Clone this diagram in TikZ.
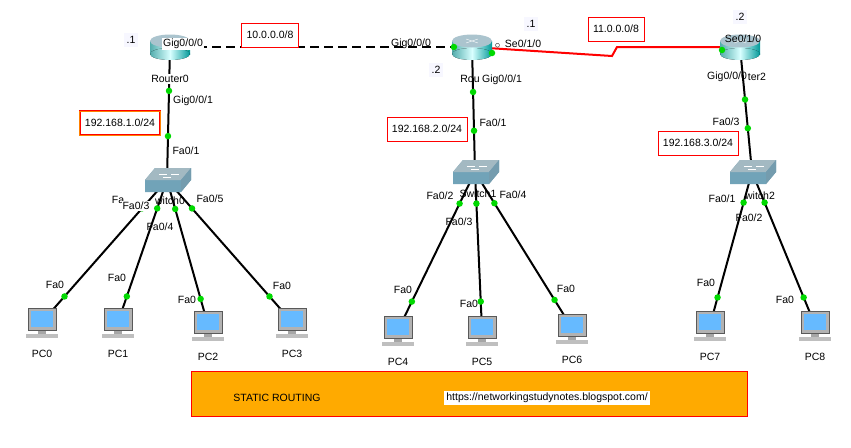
\documentclass[tikz,border=0pt]{standalone}
\usepackage{fontspec}
\setmainfont{Liberation Sans}
\definecolor{banner}{RGB}{255,170,0}
\begin{document}
\begin{tikzpicture}[x=1pt,y=-1pt,font=\fontsize{10.5}{12}\selectfont,
 lbl/.style={inner sep=1pt},
 lk/.style={line width=2pt,black},
 dot/.style={circle,fill=green!85!black,inner sep=2.3pt},
 net/.style={draw=red,fill=white,inner sep=5pt,minimum height=24pt},
 ip/.style={fill=blue!3,inner sep=3pt}]
\useasboundingbox (0,0) rectangle (851,447);
\fill[white] (0,0) rectangle (851,447);
\tikzset{router/.pic={
 \fill[left color=cyan!35!gray,right color=cyan!60!black,middle color=cyan!15] (-20,-6) rectangle (20,7);
 \fill[left color=cyan!35!gray,right color=cyan!60!black,middle color=cyan!15] (0,7) ellipse (20 and 6);
 \fill[cyan!30!gray!60] (0,-6) ellipse (20 and 6.5);
 \draw[white,thin] (-6,-8)--(6,-4) (-6,-4)--(6,-8);},
 switch/.pic={
 \fill[cyan!40!gray] (-22,0)--(-12,-12)--(24,-12)--(24,0)--(14,12)--(-22,12)--cycle;
 \fill[cyan!25!gray!70] (-22,0)--(-12,-12)--(24,-12)--(14,0)--cycle;
 \fill[cyan!50!black!70] (14,0)--(24,-12)--(24,0)--(14,12)--cycle;
 \draw[white] (-8,-6)--(0,-6) (4,-6)--(12,-6) (-4,-3)--(4,-3);},
 pc/.pic={
 \fill[gray!60] (-14,-14) rectangle (14,8);
 \fill[blue!45!cyan!60] (-11,-11) rectangle (11,5);
 \fill[gray!70] (-4,8) rectangle (4,12);
 \fill[gray!50] (-16,12) rectangle (16,16);
 \draw[gray!70!black,thin] (-14,-14) rectangle (14,8);}}
\coordinate (R0) at (170,47); \coordinate (R1) at (472,47); \coordinate (R2) at (740,47);
\coordinate (S0) at (167,180); \coordinate (S1) at (475,172); \coordinate (S2) at (752,172);
\coordinate (P0) at (42,322);\coordinate (P1) at (118,322);\coordinate (P2) at (208,325);
\coordinate (P3) at (292,322);\coordinate (P4) at (398,330);\coordinate (P5) at (482,330);
\coordinate (P6) at (572,328);\coordinate (P7) at (710,325);\coordinate (P8) at (815,325);
% links
\draw[lk,dash pattern=on 9pt off 5pt] (R0) -- (R1);
\draw[red,line width=2pt] (R1) -- (612,56) -- (617,47) -- (R2);
\draw[lk] (R0)--(S0); \draw[lk] (R1)--(S1); \draw[lk] (R2)--(S2);
\foreach \p/\s in {P0/S0,P1/S0,P2/S0,P3/S0,P4/S1,P5/S1,P6/S1,P7/S2,P8/S2} \draw[lk] (\s)--(\p);
% icons
\pic at (R0) {router}; \pic at (R1) {router}; \pic at (R2) {router};
\pic at (S0) {switch}; \pic at (S1) {switch}; \pic at (S2) {switch};
\foreach \p in {P0,P1,P2,P3,P4,P5,P6,P7,P8} \pic at (\p) {pc};
% dots
\path (R0)--(R1) node[dot,pos=0.06]{} node[dot,pos=0.94]{};
\node[dot] at (492,53) {}; \node[dot] at (722,50) {};
\path (R0)--(S0) node[dot,pos=0.33]{} node[dot,pos=0.67]{};
\path (R1)--(S1) node[dot,pos=0.36]{} node[dot,pos=0.67]{};
\path (R2)--(S2) node[dot,pos=0.42]{} node[dot,pos=0.65]{};
\foreach \p/\s in {P0/S0,P1/S0,P2/S0,P3/S0,P4/S1,P5/S1,P6/S1,P7/S2,P8/S2}
 \path (\s)--(\p) node[dot,pos=0.2]{} node[dot,pos=0.82]{};
% node labels
\node[lbl,fill=white] at (170,79) {Router0};
\node[lbl] at (470,79) {Rou};
\node[lbl] at (757,77) {ter2};
\node[lbl] at (170,201) {witch0};
\node[lbl] at (478,194) {Switch1};
\node[lbl] at (760,196) {witch2};
\foreach \p/\t in {P0/PC0,P1/PC1,P2/PC2,P3/PC3,P4/PC4,P5/PC5,P6/PC6,P7/PC7,P8/PC8}
 \node[lbl] at ([yshift=-32]\p) {\t};
% port labels
\node[lbl,fill=white] at (183,44) {Gig0/0/0};
\node[lbl] at (193,101) {Gig0/0/1};
\node[lbl] at (186,151) {Fa0/1};
\node[lbl] at (118,200) {Fa};
\node[lbl,fill=white] at (136,206) {Fa0/3};
\node[lbl] at (160,227) {Fa0/4};
\node[lbl] at (210,199) {Fa0/5};
\node[lbl] at (55,285) {Fa0};\node[lbl] at (117,278) {Fa0};
\node[lbl] at (187,300) {Fa0};\node[lbl] at (282,286) {Fa0};
\node[lbl] at (411,44) {Gig0/0/0};
\node[lbl] at (518,44) {\raisebox{-0.5pt}{$\circ$}\, Se0/1/0};
\node[lbl] at (502,80) {Gig0/0/1};
\node[lbl] at (493,123) {Fa0/1};
\node[lbl] at (440,196) {Fa0/2};
\node[lbl] at (513,195) {Fa0/4};
\node[lbl] at (459,222) {Fa0/3};
\node[lbl] at (403,290) {Fa0};\node[lbl] at (469,304) {Fa0};\node[lbl] at (566,289) {Fa0};
\node[lbl] at (743,39) {Se0/1/0};
\node[lbl] at (727,77) {Gig0/0/0};
\node[lbl] at (726,122) {Fa0/3};
\node[lbl] at (722,199) {Fa0/1};
\node[lbl] at (749,218) {Fa0/2};
\node[lbl] at (706,283) {Fa0};\node[lbl] at (785,300) {Fa0};
% ip suffixes
\node[ip] at (131,40) {.1}; \node[ip] at (436,70) {.2};
\node[ip] at (531,24) {.1}; \node[ip] at (740,17) {.2};
% network boxes
\node[net] at (270,35) {10.0.0.0/8};
\node[net] at (616,29) {11.0.0.0/8};
\node[net,double=orange,double distance=1pt,draw=red] at (120,123) {192.168.1.0/24};
\node[net] at (427,129) {192.168.2.0/24};
\node[net] at (698,143) {192.168.3.0/24};
% banner
\draw[red,fill=banner] (191,371) rectangle (747,416);
\node[lbl] at (277,398) {STATIC ROUTING};
\node[lbl,fill=white,inner sep=2pt] at (547,398) {https://networkingstudynotes.blogspot.com/};
\end{tikzpicture}
\end{document}
